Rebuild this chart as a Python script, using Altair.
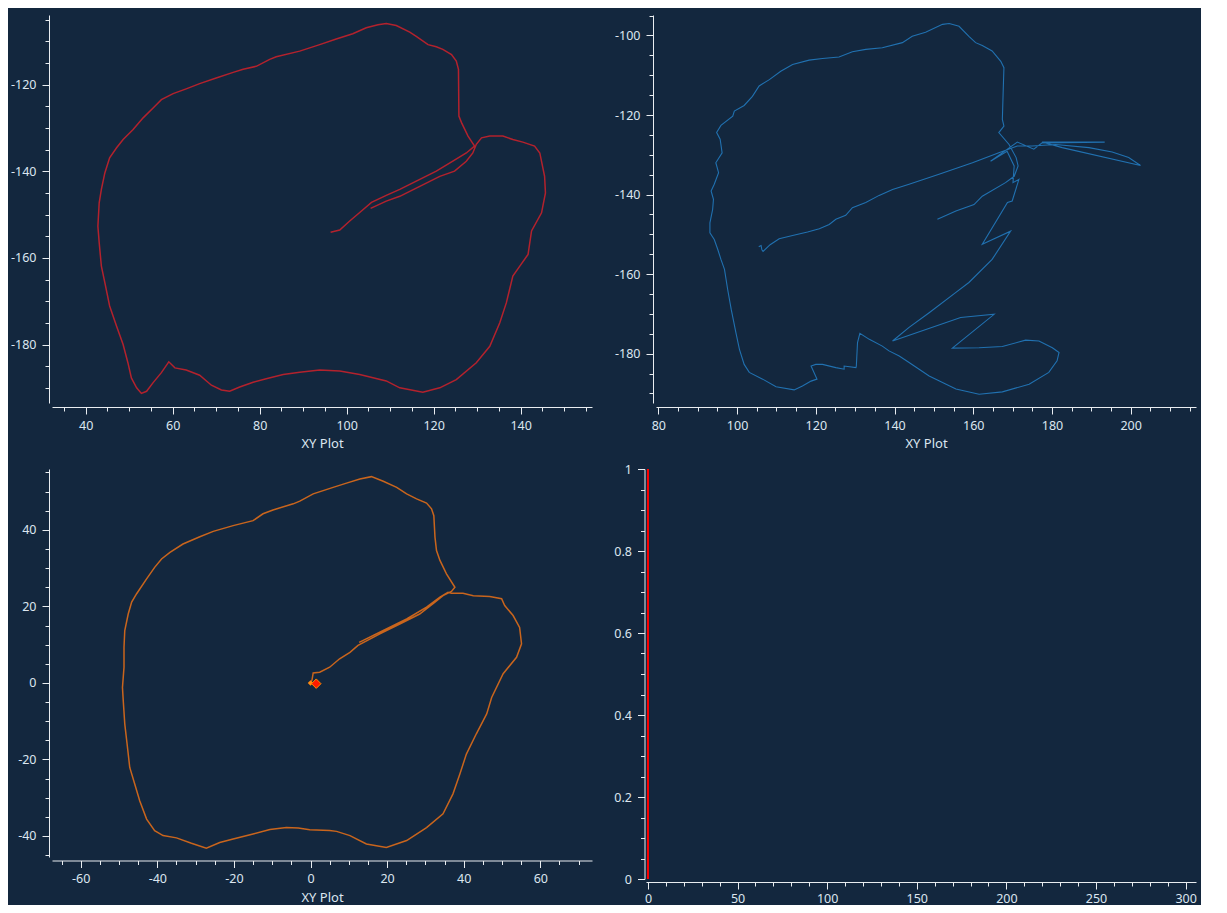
import altair as alt
import pandas as pd

BG = "#13273e"
AXIS_COL = "#e9edf1"
LABEL_COL = "#dce6f0"
FONT = "Noto Sans"

# ---------------- Panel 1 (red trajectory) ----------------
red_x = [96.3, 98.4, 100.7, 103.4, 105.7, 109.1, 112.2, 116.0, 120.6, 124.4, 127.5, 129.4,
         127.9, 126.4, 125.8, 125.7, 125.2, 124.1, 122.1, 120.6, 118.7, 116.0, 114.5, 111.4,
         109.1, 107.2, 104.5, 101.4, 97.6, 93.8, 89.2, 83.8, 82.3, 79.2, 76.2, 73.9, 70.0,
         66.2, 63.1, 60.1, 57.4, 55.9, 53.2, 50.9, 48.6, 47.1, 45.5, 44.4, 43.6, 43.1, 42.8,
         43.1, 43.6, 44.4, 45.5, 47.1, 48.6, 49.7, 50.5, 51.7, 52.8, 54.0, 55.5, 57.4, 59.1,
         60.5, 63.1, 66.2, 68.9, 71.2, 73.1, 75.4, 78.5, 81.5, 85.4, 89.2, 93.8, 98.4, 103.0,
         109.1, 112.2, 117.5, 121.4, 125.2, 129.8, 132.9, 135.2, 136.7, 138.2, 139.8, 141.7,
         142.5, 144.8, 145.7, 145.5, 144.4, 143.2, 140.5, 138.2, 135.9, 132.9, 131.0, 129.8,
         129.0, 127.5, 124.8, 121.4, 116.8, 112.2, 109.1, 105.5]
red_y = [-154.1, -153.6, -151.5, -149.2, -147.2, -145.6, -144.2, -142.3, -140.0, -137.7, -135.8, -134.2,
         -131.9, -128.8, -127.3, -116.5, -114.6, -113.1, -111.9, -111.3, -110.8, -108.9, -107.9, -106.4,
         -105.9, -106.2, -106.9, -108.3, -109.5, -110.8, -112.3, -113.6, -114.2, -115.8, -116.5, -117.2, -118.5,
         -119.8, -121.0, -122.1, -123.5, -125.0, -127.7, -130.4, -132.7, -134.6, -136.9, -140.4, -144.2, -147.3, -152.7,
         -156.5, -161.9, -165.7, -171.1, -175.8, -180.0, -184.2, -187.7, -190.0, -191.3, -190.8, -188.8, -186.5, -184.0,
         -185.4, -185.9, -187.1, -189.4, -190.5, -190.8, -189.8, -188.7, -187.9, -186.9, -186.4, -185.9, -186.1, -186.9,
         -188.4, -190.0, -191.0, -190.0, -188.1, -184.2, -180.4, -175.0, -170.4, -164.2, -161.9, -159.2,
         -153.8, -149.6, -145.0, -141.2, -135.8, -134.2, -133.3, -132.7, -131.9, -131.9, -132.3, -133.8,
         -135.8, -137.7, -140.0, -141.2, -143.5, -145.8, -146.9, -148.6]

# ---------------- Panel 2 (blue trajectory) ----------------
blue_x = [105.5, 106.1, 106.3, 106.6, 108.4, 110.7, 114.1, 117.9, 120.9, 123.4, 125.1, 127.6, 129.3,
          132.7, 136.1, 139.5, 143.7, 151.3, 159.8, 166.5, 171.2, 175.0, 180.9, 189.4, 195.3, 199.5,
          202.5, 182.6, 177.5, 193.4, 177.5, 175.4, 171.2, 164.4, 168.6, 170.4, 170.1, 171.6, 169.9,
          168.7, 162.3, 169.5, 164.8, 158.9, 155.6, 148.8, 143.7, 139.5, 156.8, 165.3, 154.7, 161.5,
          167.4, 173.3, 176.7, 180.1, 181.8, 181.3, 179.2, 174.2, 167.4, 161.5, 155.6, 148.8, 143.7,
          141.2, 138.6, 136.9, 133.6, 131.2, 130.6, 130.3, 130.2, 127.2, 127.2, 125.1, 121.7, 120.0,
          118.8, 120.3, 118.8, 116.6, 114.5, 109.9, 106.5, 103.1, 101.8, 100.6, 99.7, 98.5, 97.6, 96.8,
          95.9, 95.1, 94.2, 93.1, 93.1, 93.8, 94.0, 93.4, 94.2, 95.3, 94.6, 96.2, 95.7, 94.8, 95.9,
          98.9, 99.3, 101.8, 103.9, 105.6, 108.2, 111.1, 114.1, 118.3, 121.7, 125.9, 129.3, 132.7,
          136.9, 142.0, 144.5, 147.9, 152.2, 153.9, 156.4, 158.9, 160.6, 162.3, 164.8, 167.0, 167.8,
          167.6, 167.4, 167.8, 166.5, 169.1, 170.9, 171.4, 170.4, 168.2, 162.3, 160.2, 155.6, 150.9]
blue_y = [-153.1, -152.8, -153.9, -154.3, -152.6, -151.1, -150.3, -149.4, -148.6, -147.5, -146.2, -145.2, -143.3,
          -142.0, -140.2, -138.7, -137.4, -134.9, -132.0, -129.5, -127.8, -127.8, -127.4, -128.2, -129.3, -130.7,
          -132.7, -128.2, -126.8, -126.8, -127.0, -128.6, -126.8, -131.6, -129.1, -132.8, -137.0, -136.2, -141.6,
          -142.0, -152.5, -149.2, -156.3, -162.1, -164.6, -169.7, -173.4, -176.8, -170.9, -170.1, -178.6, -178.5,
          -178.2, -176.6, -176.8, -178.5, -179.7, -181.8, -184.7, -187.7, -189.6, -190.2, -188.9, -185.6, -182.2,
          -180.6, -179.3, -178.1, -176.4, -174.9, -177.2, -183.1, -183.5, -183.1, -183.9, -183.5, -182.7, -182.7,
          -183.1, -186.4, -186.9, -188.1, -189.1, -188.3, -186.4, -184.7, -182.7, -178.9, -174.7, -168.8, -163.8, -158.8,
          -156.3, -153.8, -151.3, -149.6, -147.1, -143.7, -141.2, -139.1, -137.4, -134.5, -132.0, -129.5, -126.1, -124.4, -122.6,
          -120.3, -119.0, -117.6, -115.3, -112.7, -111.1, -109.0, -107.3, -106.2, -105.8, -105.4, -104.1, -103.5,
          -103.1, -101.8, -100.2, -99.2, -97.2, -97.0, -97.7, -100.2, -101.8, -102.5, -103.9, -106.5, -108.1,
          -114.4, -121.1, -122.8, -124.4, -127.4, -130.7, -132.8, -135.4, -137.0, -140.4, -142.5, -144.1, -146.2]

# ---------------- Panel 3 (orange trajectory) ----------------
orange_x = [0.0, 0.4, 0.7, 2.4, 5.0, 7.6, 10.3, 12.4, 18.1, 23.3, 28.5, 32.0, 34.6, 36.8, 37.7,
            35.5, 33.8, 32.9, 32.5, 32.2, 31.6, 30.3, 27.7, 25.1, 22.5, 19.0, 15.9, 12.9, 9.4, 5.9,
            0.7, -2.8, -4.5, -9.8, -12.4, -15.0, -20.2, -25.4, -28.9, -33.3, -36.7, -38.9, -40.7,
            -42.8, -45.4, -46.7, -47.6, -48.5, -48.7, -48.7, -49.1, -48.9, -48.5, -47.9, -47.2, -45.9,
            -44.6, -42.8, -40.7, -38.5, -35.0, -31.1, -27.2, -23.7, -20.2, -15.0, -10.6, -6.3, -3.2,
            -0.2, 5.0, 6.8, 10.3, 14.6, 19.8, 25.1, 30.3, 34.6, 37.2, 39.0, 40.7, 43.3, 46.0, 47.3,
            50.3, 53.8, 55.1, 54.6, 52.9, 50.7, 49.9, 46.8, 42.5, 39.8, 36.8, 35.9, 33.8, 30.3, 25.1,
            19.0, 12.7]
orange_y = [0.0, 0.8, 2.6, 2.8, 4.1, 6.3, 8.0, 9.8, 12.8, 15.4, 18.0, 20.7, 22.8, 23.9, 25.0,
            28.5, 32.0, 34.6, 38.1, 43.7, 45.5, 47.0, 48.1, 49.4, 51.1, 52.7, 53.9, 53.3, 52.2, 51.1,
            49.4, 47.5, 46.8, 45.2, 44.2, 42.4, 41.1, 39.6, 38.2, 36.3, 34.1, 32.4, 30.2,
            27.2, 23.3, 21.1, 18.0, 13.7, 9.3, 4.1, -1.2, -4.6, -10.7, -15.9, -22.1, -26.4,
            -30.8, -35.6, -38.6, -39.9, -40.5, -41.9, -43.2, -41.7, -40.8, -39.5, -38.3, -37.8, -37.9,
            -38.4, -38.6, -38.8, -39.9, -42.1, -43.0, -41.2, -37.8, -34.2, -29.0, -23.8, -18.6, -13.3, -8.1, -3.8,
            2.4, 6.7, 10.2, 14.5, 17.6, 20.2, 22.0, 22.6, 22.8, 23.4, 23.4, 23.7, 22.4, 19.8, 16.7,
            13.7, 10.6]
start_x = [0.0]
start_y = [0.0]
current_x = [1.5]
current_y = [-0.2]

# ---------------- Panel 4 (empty time plot with red cursor) ----------------
cursor_x = [0, 0]
cursor_y = [0, 1]

# ---------------- Axis tick values / labels ----------------
p1_xticks = list(range(35, 156, 5));   p1_xlabels = [40, 60, 80, 100, 120, 140]
p1_yticks = list(range(-190, -104, 5)); p1_ylabels = [-180, -160, -140, -120]
p2_xticks = list(range(80, 216, 5));   p2_xlabels = [80, 100, 120, 140, 160, 180, 200]
p2_yticks = list(range(-190, -94, 5));  p2_ylabels = [-180, -160, -140, -120, -100]
p3_xticks = list(range(-65, 71, 5));   p3_xlabels = [-60, -40, -20, 0, 20, 40, 60]
p3_yticks = list(range(-45, 56, 5));   p3_ylabels = [-40, -20, 0, 20, 40]
p4_xticks = list(range(0, 301, 10));   p4_xlabels = [0, 50, 100, 150, 200, 250, 300]
p4_yticks = [round(k * 0.05, 2) for k in range(21)]
p4_ylabels = [0, 0.2, 0.4, 0.6, 0.8, 1]


def frame(xs, ys):
    return pd.DataFrame({"x": xs, "y": ys, "i": list(range(len(xs)))})


def make_axis(values, labels, title=None, offset=3, pad=6, min_extent=None):
    arr = "[" + ",".join(repr(v) for v in labels) + "]"
    test = f"indexof({arr}, datum.value) >= 0"
    kw = dict(values=values,
              labelExpr=f"{test} ? '' + datum.value : ''",
              tickSize={"condition": {"test": test, "value": 7}, "value": 4},
              offset=offset, labelPadding=pad, labelOverlap=False,
              labelFlush=False, grid=False, title=title)
    if min_extent is not None:
        kw["minExtent"] = min_extent
    return alt.Axis(**kw)


def enc(xdom, ydom, xaxis, yaxis):
    return dict(
        x=alt.X("x:Q", scale=alt.Scale(domain=xdom, zero=False, nice=False), axis=xaxis),
        y=alt.Y("y:Q", scale=alt.Scale(domain=ydom, zero=False, nice=False), axis=yaxis),
    )


# Panel 1
e1 = enc([32.25, 156.4], [-193.5, -103.96],
         make_axis(p1_xticks, p1_xlabels, "XY Plot", offset=4, pad=5),
         make_axis(p1_yticks, p1_ylabels, None, offset=3, pad=6, min_extent=40))
p1 = alt.Chart(frame(red_x, red_y)).mark_line(color="#b3222d", strokeWidth=1.5, clip=True).encode(
    order="i:Q", **e1).properties(width=540, height=388)

# Panel 2
e2 = enc([79.4, 216.6], [-192.4, -94.85],
         make_axis(p2_xticks, p2_xlabels, "XY Plot", offset=4, pad=5),
         make_axis(p2_yticks, p2_ylabels, None, offset=3, pad=6, min_extent=40))
p2 = alt.Chart(frame(blue_x, blue_y)).mark_line(color="#2171b0", strokeWidth=1.1, clip=True).encode(
    order="i:Q", **e2).properties(width=540, height=388)

# Panel 3
e3 = enc([-67.5, 73.5], [-45.5, 55.9],
         make_axis(p3_xticks, p3_xlabels, "XY Plot", offset=3.5, pad=5),
         make_axis(p3_yticks, p3_ylabels, None, offset=3, pad=6, min_extent=40))
l3 = alt.Chart(frame(orange_x, orange_y)).mark_line(color="#c9651d", strokeWidth=1.5, clip=True).encode(
    order="i:Q", **e3)
s3 = alt.Chart(frame(start_x, start_y)).mark_point(
    shape="diamond", filled=True, size=30, color="#ff8a10", opacity=1).encode(**e3)
c3 = alt.Chart(frame(current_x, current_y)).mark_point(
    shape="diamond", filled=True, size=90, fill="#ff1a00", stroke="#ff8c00",
    strokeWidth=1, opacity=1).encode(**e3)
p3 = alt.layer(l3, s3, c3).properties(width=540, height=388)

# Panel 4
e4 = enc([-1.1, 305.8], [0, 1],
         make_axis(p4_xticks, p4_xlabels, None, offset=3, pad=3),
         make_axis(p4_yticks, p4_ylabels, None, offset=1.5, pad=6, min_extent=31))
p4 = alt.Chart(frame(cursor_x, cursor_y)).mark_line(color="#ff0000", strokeWidth=2, clip=True).encode(
    order="i:Q", **e4).properties(width=550, height=410)

row1 = alt.hconcat(p1, p2, spacing=21)
row2 = alt.hconcat(p3, p4, spacing=21)

chart = alt.vconcat(row1, row2, spacing=12).properties(
    background=BG,
    padding={"left": 1, "top": 1, "right": 4, "bottom": 0},
).configure_view(stroke=None).configure_axis(
    domainColor=AXIS_COL, tickColor=AXIS_COL, domainWidth=1, tickWidth=1,
    labelColor=LABEL_COL, labelFont=FONT, labelFontSize=12.5,
    titleColor=LABEL_COL, titleFont=FONT, titleFontSize=13, titleFontWeight="normal",
    titlePadding=6,
)

chart.save("out.html", embed_options={"renderer": "svg", "actions": False})
